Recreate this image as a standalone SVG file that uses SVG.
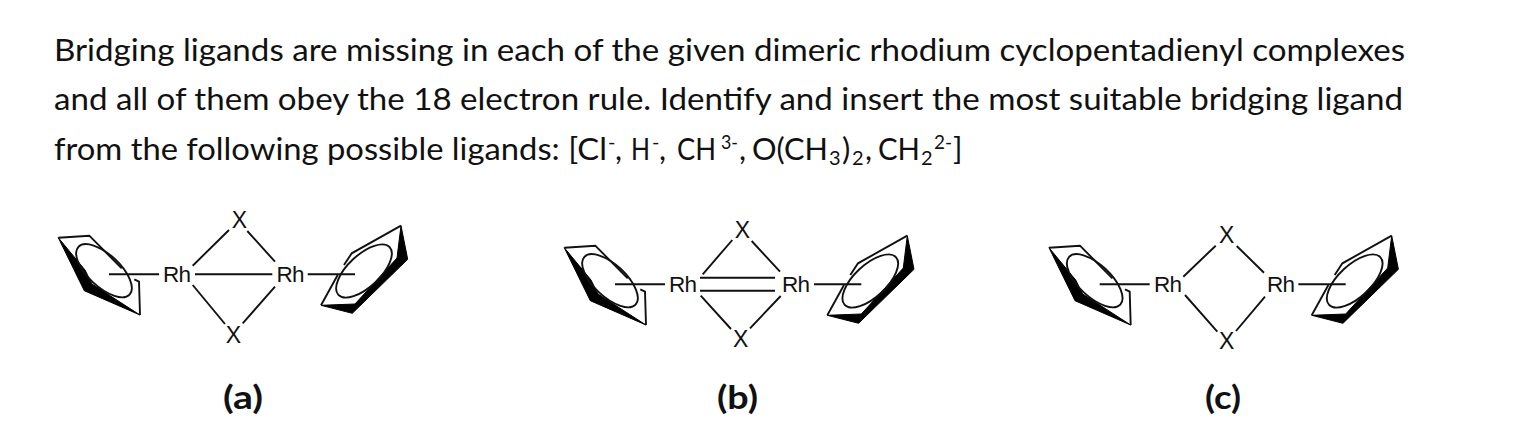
<svg xmlns="http://www.w3.org/2000/svg" width="1528" height="439" viewBox="0 0 1528 439">
<style>
.t{font-family:Lato,"Noto Sans",sans-serif;font-size:31px;fill:#111}
.s{font-size:20px}
.l{font-family:Lato,"Noto Sans",sans-serif;font-size:32px;font-weight:bold;fill:#111}
.a{font-family:"Liberation Sans",Arial,sans-serif;font-size:22.5px;fill:#111}
.x{font-family:"Liberation Sans",Arial,sans-serif;font-size:23px;fill:#111}
.b{stroke:#111;stroke-width:1.9;fill:none}
.k{fill:#000;stroke:#000;stroke-width:1;stroke-linejoin:round}
</style>
<defs>
<g id="cpL">
<path class="k" d="M58.3 237.7L84.3 290.7L140 315L92 284L85 270Z"/>
<path class="b" d="M58.3 237.7L89.3 235.7L121.7 268.3M134.3 279.3L139 281.7L140 315"/>
<ellipse class="b" cx="104" cy="270.7" rx="35" ry="16" transform="rotate(43 104 270.7)"/>
<path class="b" d="M109 274.3H159"/>
</g>
<g id="cpR">
<path class="k" d="M401 225.7L407.7 259.3L352.3 313.3L321 305.3L355 304L397 258Z"/>
<path class="b" d="M401 225.7L351.7 253.3L344 265M337.7 275L321 305.3"/>
<ellipse class="b" cx="364" cy="271" rx="35" ry="16" transform="rotate(-43 364 271)"/>
<path class="b" d="M307.7 274.3H355"/>
</g>
</defs>
<rect width="1528" height="439" fill="#fff"/>
<g id="question">
<text class="t" x="54" y="61" textLength="1351" lengthAdjust="spacingAndGlyphs">Bridging ligands are missing in each of the given dimeric rhodium cyclopentadienyl complexes</text>
<text class="t" x="54" y="110" textLength="1349" lengthAdjust="spacingAndGlyphs">and all of them obey the 18 electron rule. Identify and insert the most suitable bridging ligand</text>
<text class="t" x="54" y="160" textLength="553" lengthAdjust="spacingAndGlyphs">from the following possible ligands: [Cl</text>
<text class="s t" x="608" y="149">-</text>
<text class="t" x="615" y="160">,</text>
<text class="t" x="631" y="160" textLength="19" lengthAdjust="spacingAndGlyphs">H</text>
<text class="s t" x="652" y="149">-</text>
<text class="t" x="659" y="160">,</text>
<text class="t" x="677" y="160" textLength="39" lengthAdjust="spacingAndGlyphs">CH</text>
<text class="s t" x="721" y="149" textLength="17" lengthAdjust="spacingAndGlyphs">3-</text>
<text class="t" x="739" y="160">,</text>
<text class="t" x="752" y="160" textLength="76" lengthAdjust="spacingAndGlyphs">O(CH</text>
<text class="s t" x="829" y="165">3</text>
<text class="t" x="842" y="160">)</text>
<text class="s t" x="852" y="165">2</text>
<text class="t" x="865" y="160">,</text>
<text class="t" x="878" y="160" textLength="42" lengthAdjust="spacingAndGlyphs">CH</text>
<text class="s t" x="921" y="165">2</text>
<text class="s t" x="934" y="149" textLength="18" lengthAdjust="spacingAndGlyphs">2-</text>
<text class="t" x="953" y="160">]</text>
</g>
<g id="complex-a">
<use href="#cpL"/><use href="#cpR"/>
<text class="a" x="163" y="282.3" textLength="28">Rh</text><text class="a" x="276.5" y="282.3" textLength="28">Rh</text>
<text class="x" x="231.7" y="227.7">X</text><text class="x" x="225.7" y="342.7">X</text>
</g>
<g id="complex-b">
<use href="#cpL" x="506" y="10"/><use href="#cpR" x="506.3" y="10"/>
<text class="a" x="669" y="292.3" textLength="28">Rh</text><text class="a" x="782" y="292.3" textLength="28">Rh</text>
<text class="x" x="734.7" y="237.7">X</text><text class="x" x="733" y="346.7">X</text>
</g>
<g id="complex-c">
<use href="#cpL" x="990.7" y="10"/><use href="#cpR" x="990.7" y="10"/>
<text class="a" x="1154" y="292.3" textLength="28">Rh</text><text class="a" x="1267" y="292.3" textLength="28">Rh</text>
<text class="x" x="1219" y="243.3">X</text><text class="x" x="1219" y="349.3">X</text>
</g>
<g id="connectors" class="b">
<path d="M192.7 265.7L229 230M247.3 231L275 261.7M192.7 285L225 324M242.7 323.3L275 286.7M195 274.3H272.3"/>
<path d="M702.7 274.3L732.3 240M751.7 241L780 271.7M700.7 295.7L731 329M750 328.3L780.7 296M700 277.7H775M700 290.7H775"/>
<path d="M1183.3 276.7L1215.7 245.7M1236.7 246L1264 272.7M1185 295L1217.3 331.7M1236 331L1265 296.7"/>
</g>
<g id="labels">
<text class="l" x="223" y="409" textLength="40" lengthAdjust="spacingAndGlyphs">(a)</text>
<text class="l" x="717" y="409" textLength="41" lengthAdjust="spacingAndGlyphs">(b)</text>
<text class="l" x="1205" y="409" textLength="36" lengthAdjust="spacingAndGlyphs">(c)</text>
</g>
</svg>
